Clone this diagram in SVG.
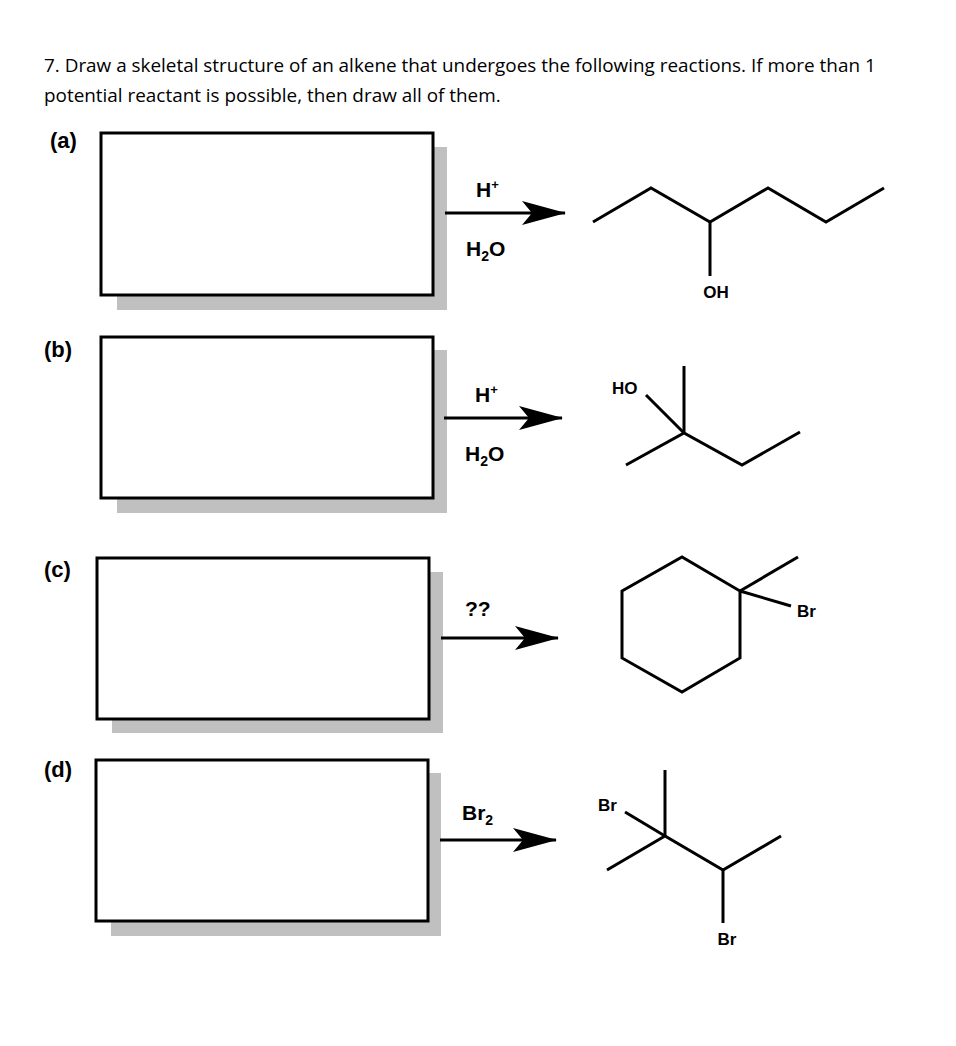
<svg xmlns="http://www.w3.org/2000/svg" width="956" height="1046" viewBox="0 0 956 1046">
<style>
.t{font-family:"Open Sans","Liberation Sans",sans-serif;font-size:18.9px;fill:#000}
.lbl{font-family:"Liberation Sans",Arial,sans-serif;font-weight:bold;font-size:22px}
.r{font-family:"Liberation Sans",Arial,sans-serif;font-weight:bold;font-size:21px}
.a{font-family:"Liberation Sans",Arial,sans-serif;font-weight:bold;font-size:17px}
.box{fill:#fff;stroke:#000;stroke-width:3}
.sh{fill:#c0c0c0}
.b{fill:none;stroke:#000;stroke-width:3;stroke-linejoin:miter}
.ar{stroke:#000;stroke-width:3}
</style>
<defs><marker id="h" markerWidth="44" markerHeight="24" refX="43" refY="12" orient="auto" markerUnits="userSpaceOnUse"><path d="M0,0 L44,12 L0,24 L10,12 Z" fill="#000"/></marker></defs>
<rect width="956" height="1046" fill="#fff"/>
<text class="t" x="44" y="72">7. Draw a skeletal structure of an alkene that undergoes the following reactions. If more than 1</text>
<text class="t" x="44" y="102">potential reactant is possible, then draw all of them.</text>
<g id="boxA"><text class="lbl" x="50" y="148">(a)</text><rect class="sh" x="117" y="147" width="330" height="163"/><rect class="box" x="101" y="133" width="332" height="162"/></g>
<g id="boxB"><text class="lbl" x="44" y="357">(b)</text><rect class="sh" x="117" y="350" width="330" height="163"/><rect class="box" x="101" y="337" width="332" height="161"/></g>
<g id="boxC"><text class="lbl" x="44" y="577">(c)</text><rect class="sh" x="112" y="572" width="331" height="161"/><rect class="box" x="97" y="558" width="332" height="161"/></g>
<g id="boxD"><text class="lbl" x="44" y="777">(d)</text><rect class="sh" x="111" y="773" width="330" height="163"/><rect class="box" x="96" y="760" width="332" height="161"/></g>
<g id="connectors">
<line class="ar" x1="445" y1="213" x2="565" y2="213" marker-end="url(#h)"/>
<line class="ar" x1="444" y1="418" x2="562" y2="418" marker-end="url(#h)"/>
<line class="ar" x1="441" y1="638" x2="558" y2="638" marker-end="url(#h)"/>
<line class="ar" x1="440" y1="840" x2="556" y2="840" marker-end="url(#h)"/>
</g>
<g id="reagents">
<text class="r" x="476" y="197">H<tspan font-size="13" dy="-8">+</tspan></text>
<text class="r" x="466" y="256">H<tspan font-size="14" dy="5">2</tspan><tspan dy="-5">O</tspan></text>
<text class="r" x="475" y="402">H<tspan font-size="13" dy="-8">+</tspan></text>
<text class="r" x="465" y="461">H<tspan font-size="14" dy="5">2</tspan><tspan dy="-5">O</tspan></text>
<text class="r" x="465" y="616">??</text>
<text class="r" x="462" y="820">Br<tspan font-size="14" dy="5">2</tspan></text>
</g>
<g id="productA"><polyline class="b" points="593,222 651,188 710,222 768,188 826,222 884,188"/><line class="b" x1="710" y1="222" x2="710" y2="276"/><text class="a" x="716" y="298" text-anchor="middle">OH</text></g>
<g id="productB"><line class="b" x1="684" y1="366" x2="684" y2="433"/><line class="b" x1="646" y1="395" x2="684" y2="433"/><polyline class="b" points="626,465 684,433 742,465 800,432"/><text class="a" x="612" y="394">HO</text></g>
<g id="productC"><polygon class="b" points="622,591 682,557 740,591 740,658 682,692 622,658"/><line class="b" x1="740" y1="591" x2="798" y2="557"/><line class="b" x1="740" y1="591" x2="791" y2="606"/><text class="a" x="797" y="617">Br</text></g>
<g id="productD"><line class="b" x1="665" y1="770" x2="665" y2="836"/><line class="b" x1="625" y1="812" x2="665" y2="836"/><polyline class="b" points="607,870 665,836 723,870 781,836"/><line class="b" x1="723" y1="870" x2="723" y2="923"/><text class="a" x="598" y="811">Br</text><text class="a" x="727" y="945" text-anchor="middle">Br</text></g>
</svg>
